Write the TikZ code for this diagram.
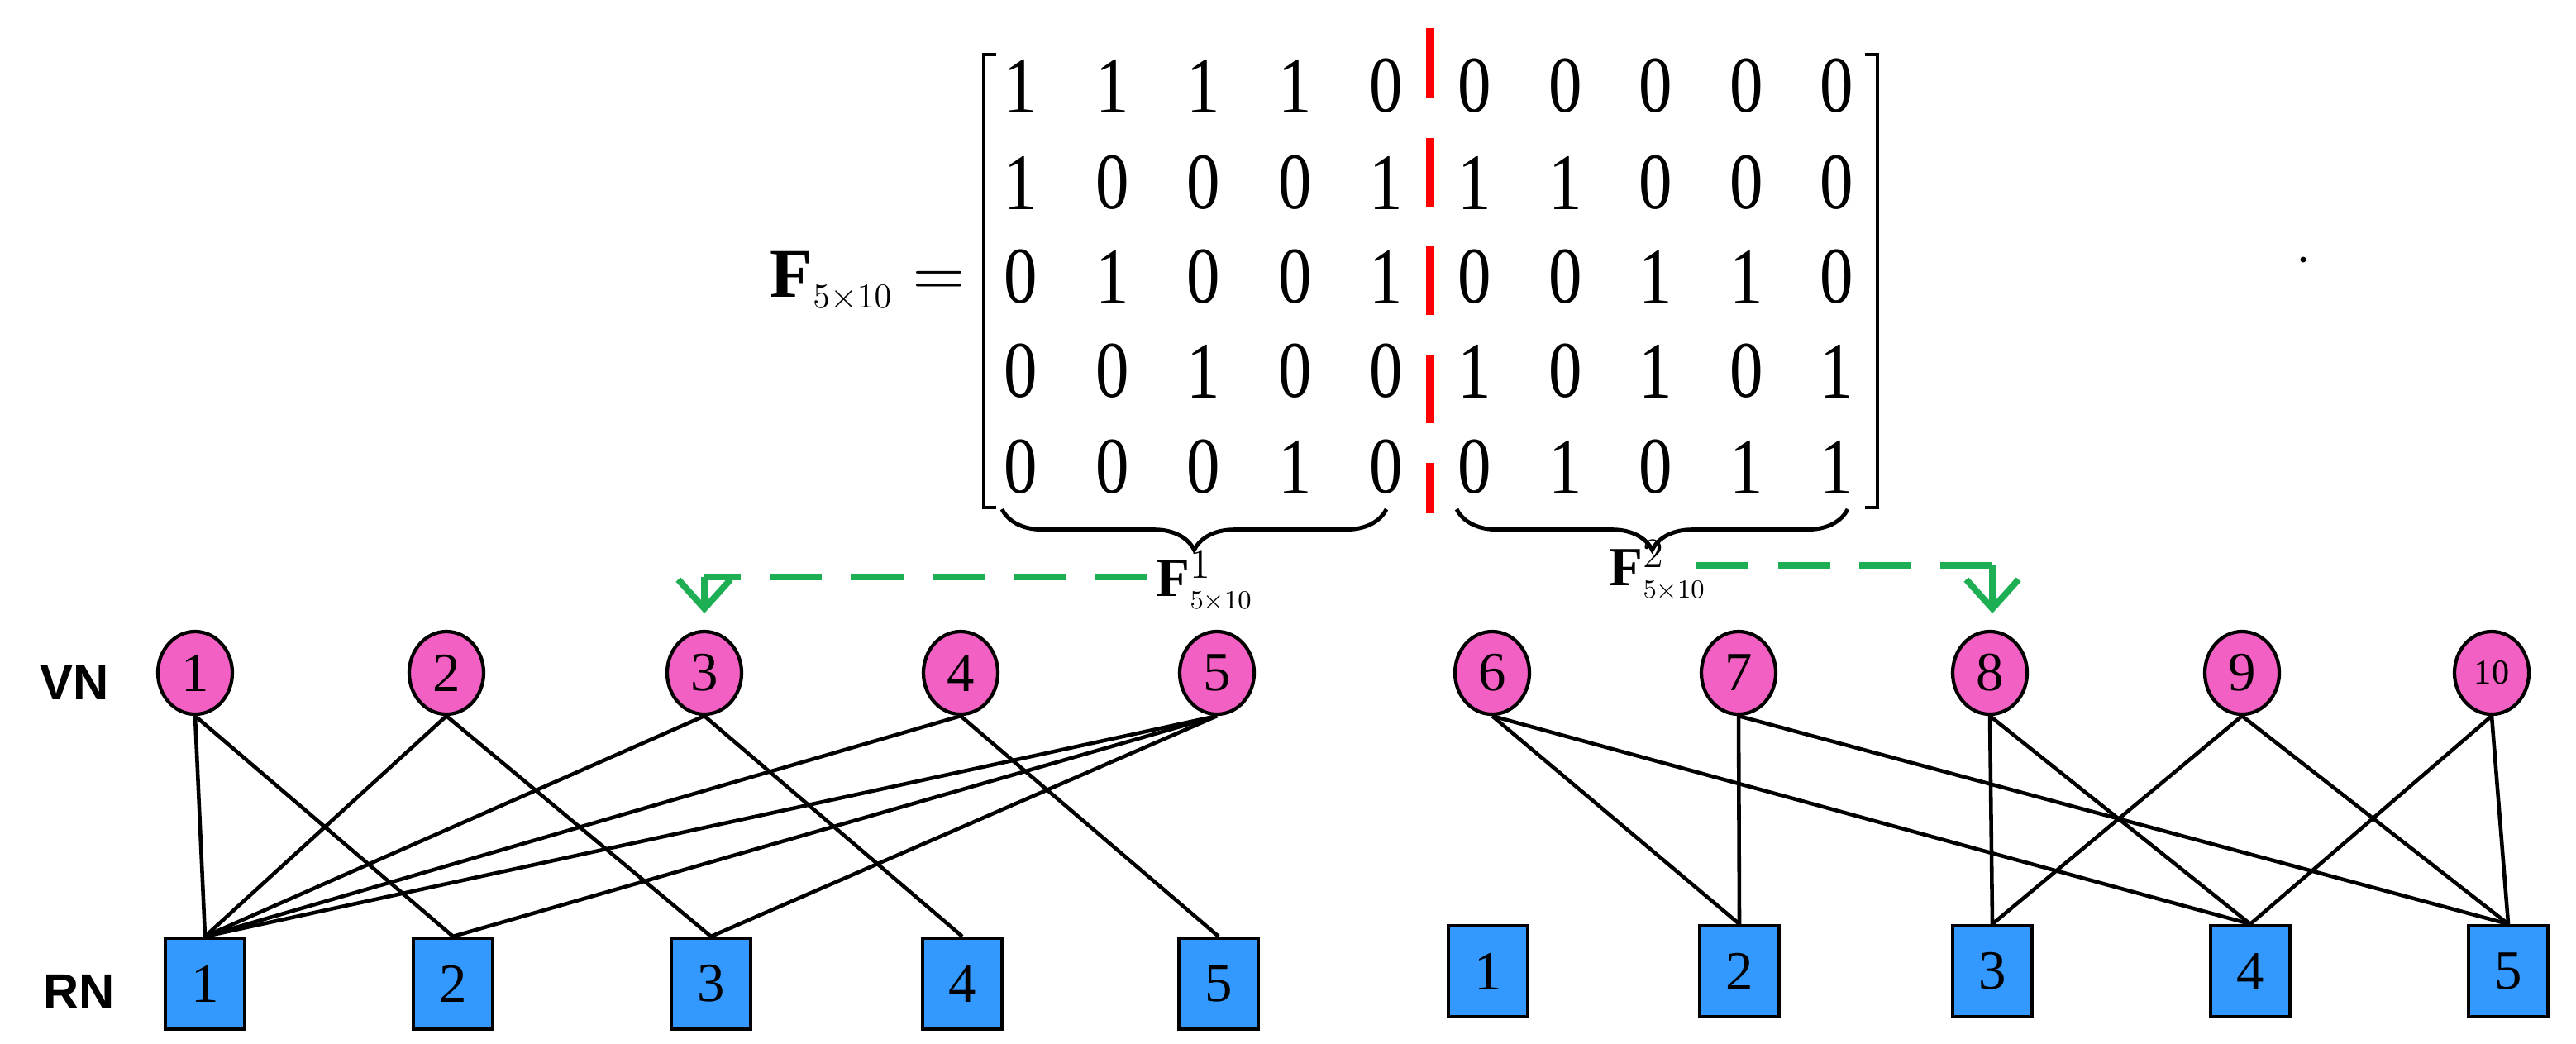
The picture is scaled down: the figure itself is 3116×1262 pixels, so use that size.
\documentclass[tikz,border=0pt]{standalone}
\usepackage{fontspec}
\setmainfont{Liberation Serif}
\newfontfamily\lsans{Liberation Sans}
\usetikzlibrary{decorations.pathreplacing,arrows.meta,shapes.geometric}
\definecolor{pinkn}{RGB}{242,96,196}
\definecolor{bluen}{RGB}{51,153,255}
\definecolor{greend}{RGB}{30,175,85}
\begin{document}
\begin{tikzpicture}[x=0.01cm,y=-0.01cm,
 vn/.style={ellipse,draw=black,line width=1.2pt,fill=pinkn,minimum width=0.9cm,minimum height=1.0cm,inner sep=0pt,font=\fontsize{19}{19}\selectfont},
 rn/.style={rectangle,draw=black,line width=1.2pt,fill=bluen,minimum width=0.96cm,minimum height=1.1cm,inner sep=0pt,font=\fontsize{19}{19}\selectfont},
 ed/.style={line width=1.3pt},
 md/.style={font=\fontsize{23}{23}\selectfont,inner sep=0pt,yscale=1.2},
 lab/.style={font=\lsans\bfseries\fontsize{17}{17}\selectfont},
 gd/.style={greend,line width=2.2pt,dash pattern=on 18pt off 10pt},
 rd/.style={red,line width=3pt}]
\useasboundingbox (0,0) rectangle (3116,1262);
\foreach \r/\y/\vals in {1/104/{1,1,1,1,0,0,0,0,0,0},2/221/{1,0,0,0,1,1,1,0,0,0},3/335/{0,1,0,0,1,0,0,1,1,0},4/449/{0,0,1,0,0,1,0,1,0,1},5/565/{0,0,0,1,0,0,1,0,1,1}}{
  \foreach \v [count=\c] in \vals {
    \pgfmathsetmacro{\xx}{\c<6 ? 1235+(\c-1)*110.5 : 1784+(\c-6)*109.5}
    \node[md] (m\r\c) at (\xx,\y) {\v};
  }
}
\draw[line width=1pt] (1205,66) -- (1190,66) -- (1190,614) -- (1205,614);
\draw[line width=1pt] (2256,66) -- (2271,66) -- (2271,614) -- (2256,614);
\foreach \a/\b in {34/119,167/250,298/381,429/512,560/621}{\draw[rd] (1730,\a) -- (1730,\b);}
\node[anchor=east,inner sep=0pt,font=\fontsize{24}{24}\selectfont] (Flab) at (1168,340) {$\mathbf{F}_{\scriptscriptstyle 5\times10}=$};
\draw[decorate,decoration={brace,mirror,amplitude=14pt},line width=1.4pt] (1212,616) -- (1677,616);
\draw[decorate,decoration={brace,mirror,amplitude=14pt},line width=1.4pt] (1762,616) -- (2235,616);
\node[anchor=west,inner sep=0pt,font=\fontsize{19}{19}\selectfont] (F1) at (1398,703) {$\mathbf{F}^{1}_{\scriptscriptstyle 5\times10}$};
\node[anchor=west,inner sep=0pt,font=\fontsize{19}{19}\selectfont] (F2) at (1946,690) {$\mathbf{F}^{2}_{\scriptscriptstyle 5\times10}$};
\node[lab] (VN) at (90,826) {VN};
\node[lab] (RN) at (96,1200) {RN};
\foreach \i/\x in {1/236,2/540,3/852,4/1162,5/1472,6/1805,7/2103,8/2407,9/2712,10/3014}{
  \ifnum\i=10 \node[vn,font=\fontsize{12}{12}\selectfont] (v\i) at (\x,814) {\i};
  \else \node[vn] (v\i) at (\x,814) {\i};\fi}
\foreach \i/\x in {1/248,2/548,3/860,4/1164,5/1474}{\node[rn] (a\i) at (\x,1190) {\i};}
\foreach \i/\x in {1/1800,2/2104,3/2410,4/2722,5/3034}{\node[rn] (b\i) at (\x,1175) {\i};}
\foreach \v/\r in {1/1,1/2,2/1,2/3,3/1,3/4,4/1,4/5,5/1,5/2,5/3}{\draw[ed] (v\v.south) -- (a\r.north);}
\foreach \v/\r in {6/2,6/4,7/2,7/5,8/3,8/4,9/3,9/5,10/4,10/5}{\draw[ed] (v\v.south) -- (b\r.north);}
\coordinate (g1) at (1388,698);
\coordinate (g1c) at (852,698);
\coordinate (g1e) at (852,742);
\draw[gd] (g1) -- (g1c);
\draw[greend,line width=2.2pt,-{Straight Barb[length=10pt,width=18pt]}] (g1c) -- (g1e);
\coordinate (g2) at (2052,684);
\coordinate (g2c) at (2410,684);
\coordinate (g2e) at (2410,742);
\draw[gd] (g2) -- (g2c);
\draw[greend,line width=2.2pt,-{Straight Barb[length=10pt,width=18pt]}] (g2c) -- (g2e);
\fill (2786,314) circle (1pt);
\end{tikzpicture}
\end{document}
